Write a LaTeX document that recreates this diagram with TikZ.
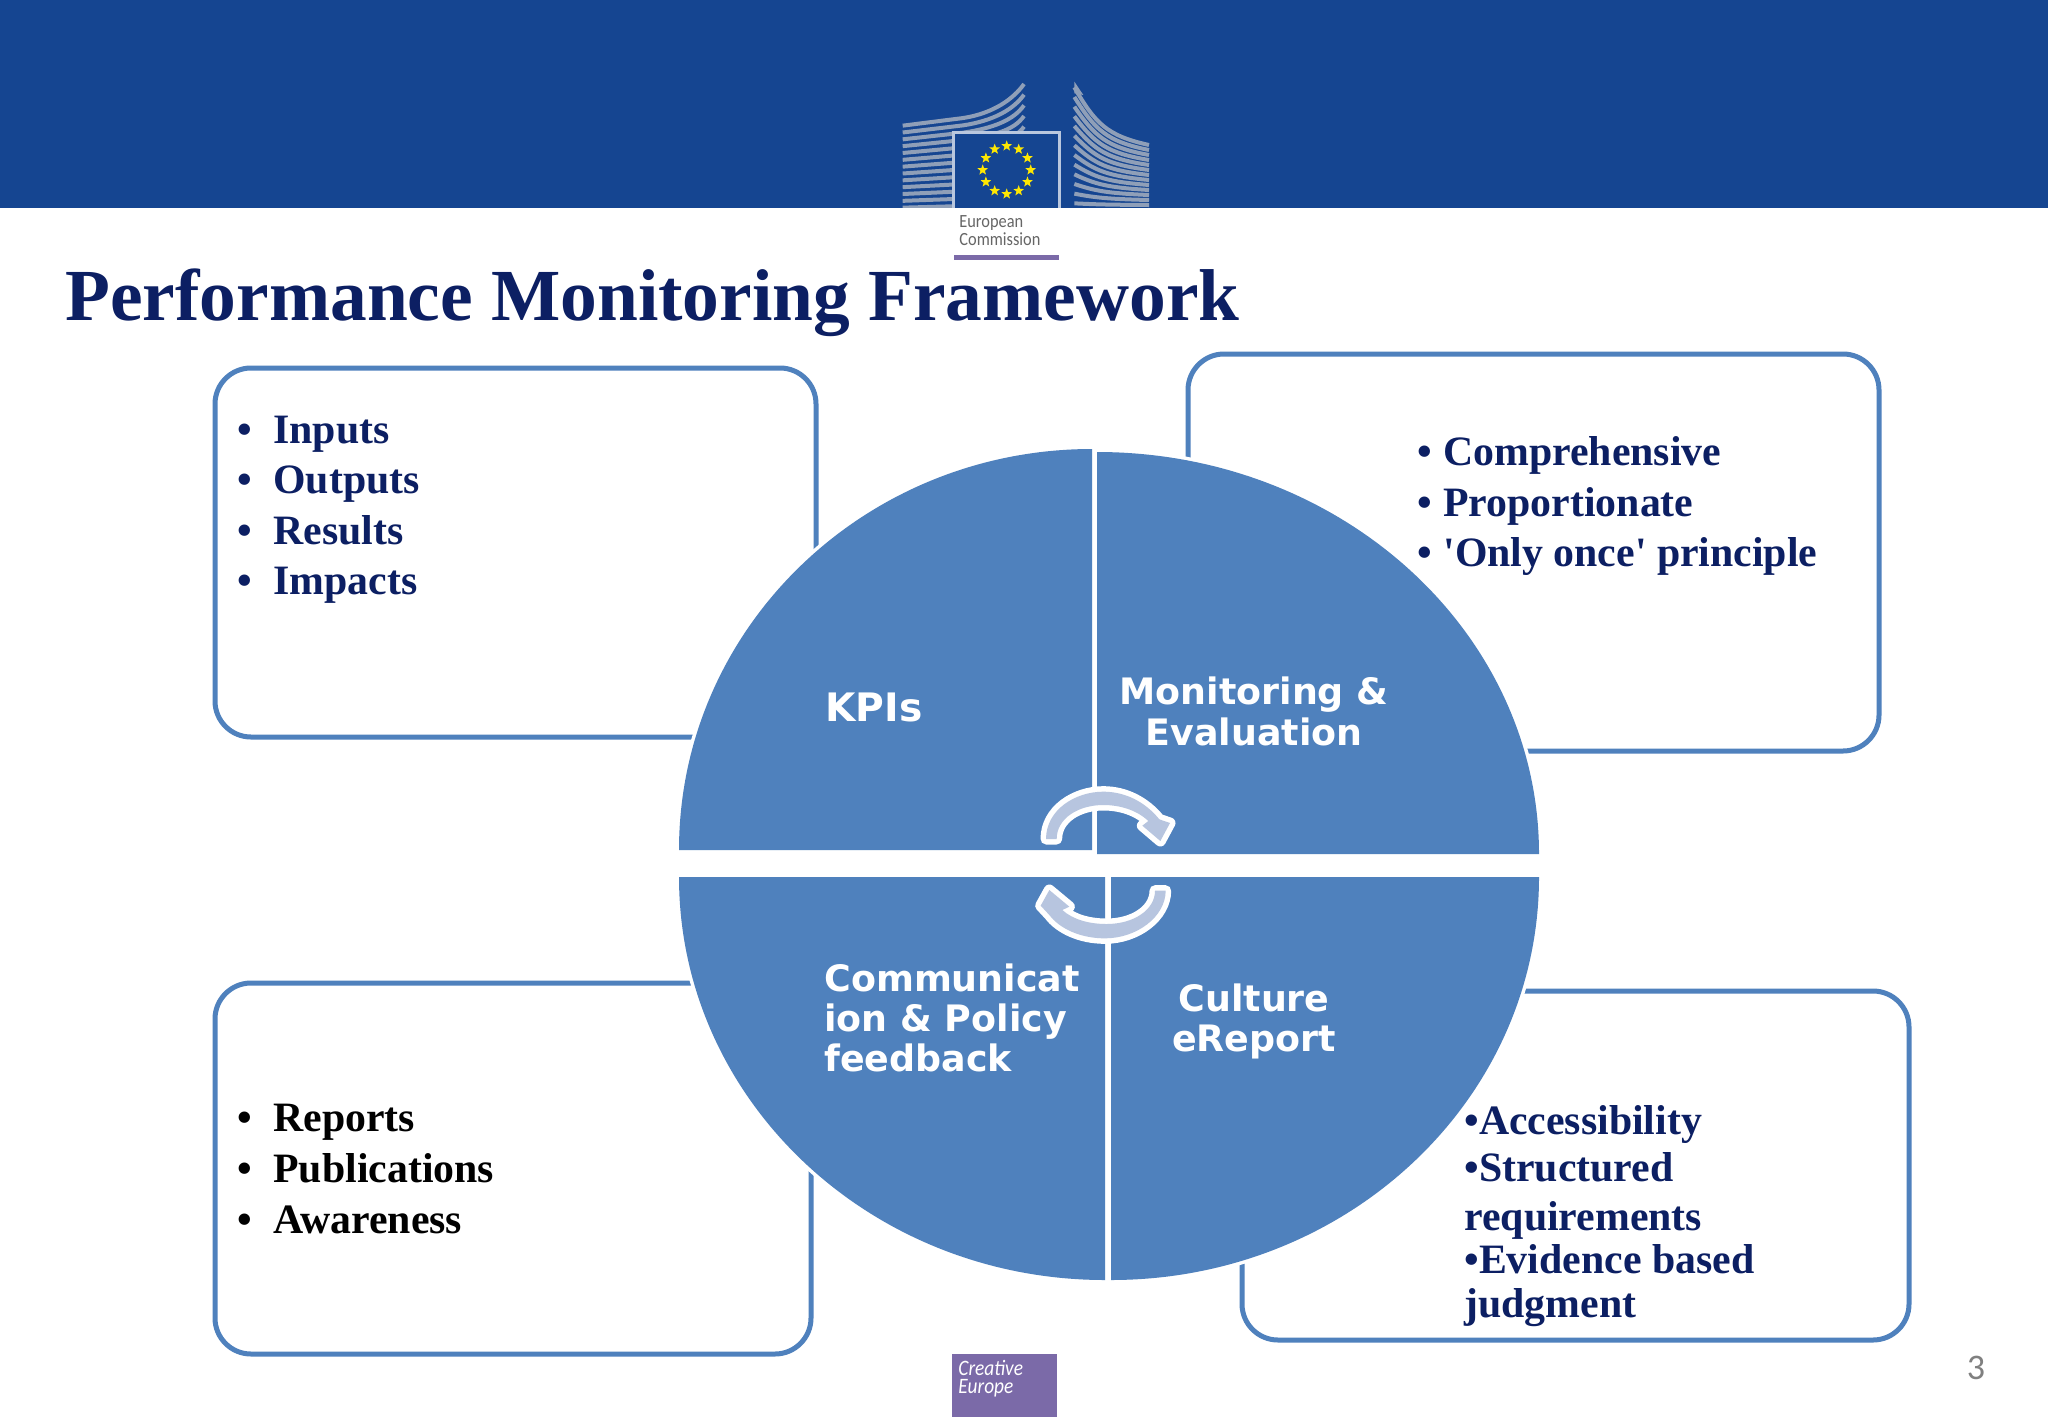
\documentclass[tikz,border=0pt]{standalone}
\usepackage{fontspec}
\setmainfont{Liberation Serif}
\newfontfamily\plainser{Liberation Serif}
\newfontfamily\vfont{DejaVu Sans}
\newfontfamily\cfont{Carlito}[FakeStretch=0.88]
\newfontfamily\pgfont{Carlito}
\usetikzlibrary{shapes.geometric}
\definecolor{hdr}{HTML}{154591}
\definecolor{pie}{HTML}{4F81BD}
\definecolor{navy}{HTML}{0C1F63}
\definecolor{arrowfill}{HTML}{B7C5DF}
\definecolor{purp}{HTML}{7B6AA8}
\definecolor{stripe}{HTML}{8F9FB8}
\newcommand{\pieq}[4]{({#1+(#3)},{#2}) .. controls ({#1+(#3)},{#2+0.5523*(#4)}) and ({#1+0.5523*(#3)},{#2+(#4)}) .. ({#1},{#2+(#4)}) -- ({#1},{#2}) -- cycle}
\tikzset{
 framebox/.style={draw=pie,line width=2.5pt,rounded corners=18pt,fill=white},
 pieedge/.style={draw=white,line width=3.5pt,line join=round},
 piepart/.style={fill=pie},
 turn/.style={preaction={draw=white,line width=5.5pt,line join=round},fill=arrowfill},
 listitem/.style={anchor=base west,inner sep=0pt,font=\bfseries\fontsize{20.9}{24}\selectfont,text=navy},
 blackitem/.style={listitem,text=black},
 pietext/.style={inner sep=0pt,font=\vfont\bfseries\fontsize{18.2}{23}\selectfont,text=white},
 pieleft/.style={pietext,anchor=base west},
 piemid/.style={pietext,anchor=base},
 starmark/.style={star,star points=5,star point ratio=2.4,fill=yellow!90!orange,minimum size=5.6pt,inner sep=0pt,draw=none}
}
\begin{document}
\begin{tikzpicture}[x=0.5pt,y=-0.5pt]
\useasboundingbox (0,0) rectangle (2048,1418);
\fill[white] (0,0) rectangle (2048,1418);
\fill[hdr] (0,0) rectangle (2048,208);
% left and right building
\begin{scope}[shift={(850,60)}]
\begin{scope}[x=0.16667pt,y=-0.16667pt]
\clip (100,40) rectangle (950,443);
\foreach \i in {0,...,12}{
  \pgfmathsetmacro{\yl}{197+20.5*\i}
  \pgfmathsetmacro{\yr}{72+32*\i}
  \pgfmathsetmacro{\ym}{168+22*\i}
  \draw[stripe,line width=2pt] (158,\yl) -- (340,\ym+6) .. controls (430,\ym-8) and (490,\yr+45) .. (522,\yr);
}
\foreach \i in {0,...,12}{
  \pgfmathsetmacro{\yl}{82+29*\i}
  \pgfmathsetmacro{\yr}{255+15*\i}
  \pgfmathsetmacro{\ya}{\yl+0.62*(\yr-\yl)}
  \pgfmathsetmacro{\yb}{\yr-0.16*(\yr-\yl)}
  \draw[stripe,line width=2pt] (673,\yl) .. controls (735,\ya) and (770,\yb) .. (897,\yr);
}
\fill[stripe] (673,65) -- (700,105) -- (673,100) -- cycle;
\end{scope}
\end{scope}
\begin{scope}[shift={(850,60)}]
\begin{scope}[x=0.16667pt,y=-0.16667pt]
\fill[hdr] (310,218) rectangle (628,443);
\draw[draw=white!70!hdr,line width=1.2pt] (310,443) -- (310,218) -- (628,218) -- (628,443);
\foreach \a in {0,30,...,330}
  \node[starmark] at ({470+72*cos(\a)},{330+72*sin(\a)}) {};
\end{scope}
\end{scope}
\node[anchor=base west,inner sep=0pt,text=black!60,font=\cfont\fontsize{9.3}{11}\selectfont] (eu) at (959,227) {European};
\node[anchor=base west,inner sep=0pt,text=black!60,font=\cfont\fontsize{9.3}{11}\selectfont] (com) at (959,245) {Commission};
\fill[purp] (954,255) rectangle (1059,260);
\node[anchor=base west,inner sep=0pt,text=navy,font=\bfseries\fontsize{36.7}{42}\selectfont] (title) at (65,320) {Performance Monitoring Framework};
% frames
\draw[framebox] (215,368) rectangle (816,737);
\draw[framebox] (1188,354) rectangle (1879,751);
\draw[framebox] (215,983) rectangle (811,1354);
\draw[framebox] (1242,991) rectangle (1909,1340);
% pie
\foreach \cx/\cy/\rx/\ry in {1092/850/-413/-401,1097/854/442/-402,1105/877/-426/403,1111/877/428/403}
  \path[pieedge] \pieq{\cx}{\cy}{\rx}{\ry};
\foreach \cx/\cy/\rx/\ry in {1092/850/-413/-401,1097/854/442/-402,1105/877/-426/403,1111/877/428/403}
  \path[piepart] \pieq{\cx}{\cy}{\rx}{\ry};
% turning arrows
\begin{scope}[shift={(1000,760)}]
\begin{scope}[x=0.16667pt,y=-0.16667pt]
\path[turn] (138,237) .. controls (138,150) and (225,95) .. (310,95) .. controls (375,95) and (435,125) .. (478,178) -- (510,189) -- (481,243) -- (427,197) -- (445,183) .. controls (410,150) and (360,135) .. (310,135) .. controls (235,135) and (170,175) .. (170,237) -- cycle;
\path[turn] (497,392) .. controls (497,470) and (410,535) .. (315,535) .. controls (240,535) and (178,505) .. (148,465) -- (122,437) -- (148,390) -- (208,440) -- (187,450) .. controls (220,480) and (270,492) .. (320,492) .. controls (400,492) and (465,450) .. (465,392) -- cycle;
\end{scope}
\end{scope}
% pie labels
\node[pieleft,font=\vfont\bfseries\fontsize{19.6}{23}\selectfont] (kpi) at (825,721) {KPIs};
\node[piemid] (me1) at (1254,704) {Monitoring \&};
\node[piemid] (me2) at (1254,745) {Evaluation};
\node[pieleft] (cp1) at (824,991) {Communicat};
\node[pieleft] (cp2) at (824,1031) {ion \& Policy};
\node[pieleft] (cp3) at (824,1071) {feedback};
\node[piemid] (cu1) at (1254,1011) {Culture};
\node[piemid] (cu2) at (1254,1051) {eReport};
% lists
\foreach \t/\y/\n in {Inputs/443/a,Outputs/493/b,Results/544/c,Impacts/594/d}{
  \node[listitem] (tl\n) at (273,\y) {\t};
  \node[listitem] (tlb\n) at (237,\y) {•};
}
\foreach \t/\y/\n in {Comprehensive/465/a,Proportionate/516/b}{
  \node[listitem] (tr\n) at (1443,\y) {\t};
  \node[listitem] (trb\n) at (1417,\y) {•};
}
\node[listitem,font=\plainser\bfseries\fontsize{20.9}{24}\selectfont] (trc) at (1443,566) {'Only once' principle};
\node[listitem] (trbc) at (1417,566) {•};
\foreach \t/\y/\n in {Reports/1131/a,Publications/1182/b,Awareness/1233/c}{
  \node[blackitem] (bl\n) at (273,\y) {\t};
  \node[blackitem] (blb\n) at (237,\y) {•};
}
\node[listitem] (bra) at (1464,1134) {•Accessibility};
\node[listitem] (brb) at (1464,1181) {•Structured};
\node[listitem] (brc) at (1464,1230) {requirements};
\node[listitem] (brd) at (1464,1273) {•Evidence based};
\node[listitem] (bre) at (1464,1317) {judgment};
% footer
\fill[purp] (952,1354) rectangle (1057,1417);
\node[anchor=base west,inner sep=0pt,text=white,font=\cfont\itshape\fontsize{11}{13}\selectfont] (ce1) at (958,1375) {Creative};
\node[anchor=base west,inner sep=0pt,text=white,font=\cfont\itshape\fontsize{11}{13}\selectfont] (ce2) at (958,1393) {Europe};
\node[anchor=base,inner sep=0pt,text=black!50,font=\pgfont\fontsize{18}{20}\selectfont] (pg) at (1976,1379) {3};
\end{tikzpicture}
\end{document}
